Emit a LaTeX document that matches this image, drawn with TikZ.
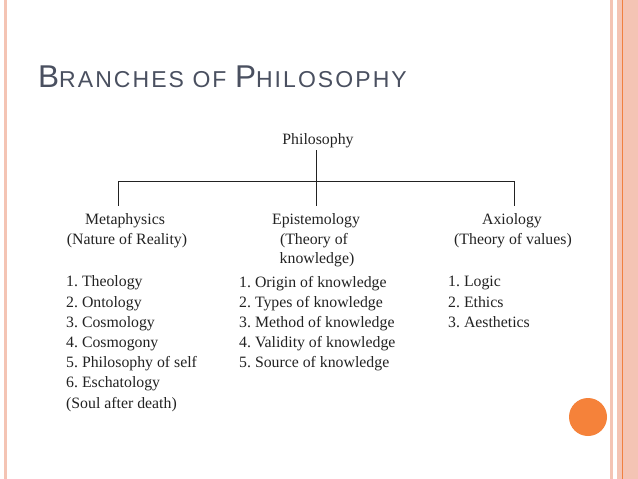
\documentclass[tikz,border=0pt]{standalone}
\usepackage{fontspec}
\setmainfont{Liberation Serif}
\newfontfamily\titlefont[LetterSpace=9]{Liberation Sans}
\definecolor{pinkline}{HTML}{F4C4B4}
\definecolor{orangeline}{HTML}{F08040}
\definecolor{dot}{HTML}{F5823A}
\definecolor{titlecol}{HTML}{4A5060}
\definecolor{ink}{HTML}{222222}
\frenchspacing
\begin{document}
\begin{tikzpicture}[x=1pt,y=-1pt,
  txt/.style={font=\fontsize{15.8}{18}\selectfont\frenchspacing,text=ink,inner sep=0pt},
  lst/.style={txt,anchor=west},
  tree/.style={draw=ink,line width=1pt}]
\useasboundingbox (0,0) rectangle (638,479);
\fill[white] (0,0) rectangle (638,479);
% left border
\fill[pinkline] (4,0) rectangle (7,479);
% right border
\fill[pinkline] (610,0) rectangle (613,479);
\fill[pinkline] (617,0) rectangle (638,479);
\draw[orangeline,line width=0.6pt] (622,0) -- (622,479);
\fill[dot] (588,417) circle (19);
% title
\node[anchor=base west,inner sep=0pt,text=titlecol] (title) at (38,87)
  {\titlefont\fontsize{31.5}{34}\selectfont B\fontsize{23}{26}\selectfont RANCHES OF \fontsize{31.5}{34}\selectfont P\fontsize{23}{26}\selectfont HILOSOPHY};
% tree
\node[txt] (phil) at (318,141) {Philosophy};
\node[txt] (meta) at (125,221) {Metaphysics};
\node[txt] (meta2) at (127,241) {(Nature of Reality)};
\node[txt] (epi) at (316,221) {Epistemology};
\node[txt] (epi2) at (314,241) {(Theory of};
\node[txt] (epi3) at (317,260) {knowledge)};
\node[txt] (axi) at (512,221) {Axiology};
\node[txt] (axi2) at (513,241) {(Theory of values)};
\coordinate (hl) at (118,181);
\coordinate (hr) at (514,181);
\draw[tree] (316,150) coordinate (ps) -- (316,206) coordinate (pe);
\draw[tree] (hl) -- (hr);
\draw[tree] (hl) -- (118,206) coordinate (le);
\draw[tree] (hr) -- (514,206) coordinate (re);
% lists
\foreach \t [count=\i] in {1. Theology,2. Ontology,3. Cosmology,4. Cosmogony,5. Philosophy of self,6. Eschatology,(Soul after death)}
  \node[lst] (l\i) at (66,{263+20.2*\i}) {\t};
\foreach \t [count=\i] in {1. Origin of knowledge,2. Types of knowledge,3. Method of knowledge,4. Validity of knowledge,5. Source of knowledge}
  \node[lst] (m\i) at (239,{263+20.2*\i}) {\t};
\foreach \t [count=\i] in {1. Logic,2. Ethics,3. Aesthetics}
  \node[lst] (r\i) at (448,{263+19.7*\i}) {\t};
\end{tikzpicture}
\end{document}
